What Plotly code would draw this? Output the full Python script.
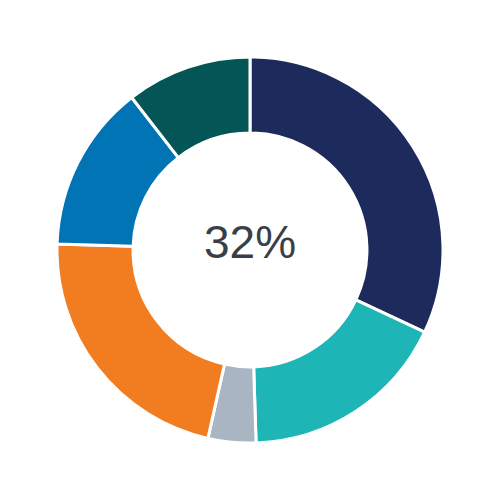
import plotly.graph_objects as go

# Data
labels = ["A", "B", "C", "D", "E", "F"]
values = [32, 17.5, 4, 22, 14, 10.5]
colors = ["#1c2b5c", "#1db5b5", "#a9b5c3", "#f27d21", "#0074b4", "#045656"]
center_text = "32%"

fig = go.Figure(data=go.Pie(labels=labels, values=values, hole=0.606,
                            sort=False, direction='clockwise', rotation=0,
                            marker=dict(colors=colors, line=dict(color='white', width=3)),
                            textinfo='none', hoverinfo='label+percent'))

# page body adds an 8px offset, so margins are shifted to keep the ring centred
fig.update_layout(width=500, height=500, showlegend=False,
                  margin=dict(l=49, r=65, t=49, b=65),
                  paper_bgcolor='white', plot_bgcolor='white',
                  annotations=[dict(text=center_text, x=0.5, y=0.52, xref='paper', yref='paper',
                                    showarrow=False,
                                    font=dict(family='Liberation Sans, Arial', size=46, color='#3a3f47'))])

fig.write_html("out.html")
